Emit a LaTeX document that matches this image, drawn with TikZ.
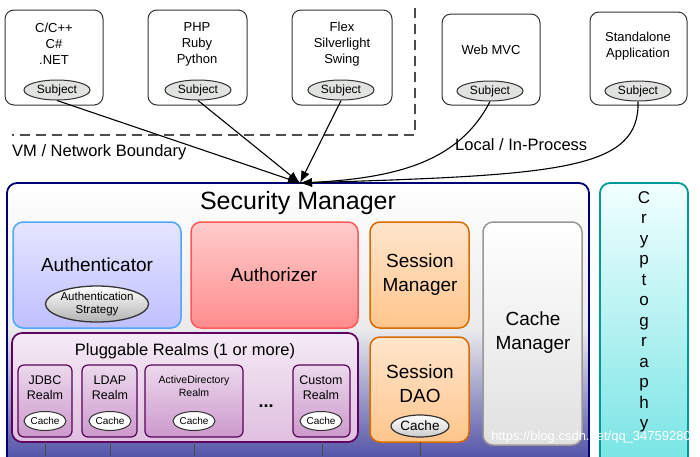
\documentclass[tikz,border=0pt]{standalone}
\usepackage{fontspec}
\setmainfont{Liberation Sans}
\usetikzlibrary{arrows.meta,shapes.geometric}
\begin{document}
\begin{tikzpicture}[x=1pt,y=-1pt,
  client/.style={draw=black!80,line width=1pt,rounded corners=9pt,fill=white},
  subj/.style={ellipse,draw=black!80,line width=1pt,fill=green!10!black!12,inner sep=0pt,minimum width=66pt,minimum height=20pt,font=\fontsize{12}{12}\selectfont},
  cache/.style={ellipse,draw=black!80,line width=1pt,fill=white,inner sep=0pt,minimum width=42pt,minimum height=19pt,font=\fontsize{10}{10}\selectfont},
  realm/.style={draw=violet!70!black,line width=1.2pt,rounded corners=6pt,top color=violet!15,bottom color=violet!40},
  arr/.style={-{Latex[length=12pt,width=9pt]},line width=1.1pt},
  ctext/.style={font=\fontsize{13}{16}\selectfont,align=center}]
\useasboundingbox (0,0) rectangle (700,456);
\fill[white] (0,0) rectangle (700,456);
% clients
\draw[client] (5,10) rectangle (103,105);
\draw[client] (148,10) rectangle (247,105);
\draw[client] (292,10) rectangle (392,105);
\draw[client] (442,14) rectangle (540,105);
\draw[client] (590,12) rectangle (687,105);
\node[ctext] (t1) at (54,44) {C/C++\\C\#\\.NET};
\node[ctext] (t2) at (197,44) {PHP\\Ruby\\Python};
\node[ctext] (t3) at (342,44) {Flex\\Silverlight\\Swing};
\node[ctext] (t4) at (491,50) {Web MVC};
\node[ctext] (t5) at (638,46) {Standalone\\Application};
\node[subj] (s1) at (57,90) {Subject};
\node[subj] (s2) at (198,90) {Subject};
\node[subj] (s3) at (341,90) {Subject};
\node[subj] (s4) at (490,91) {Subject};
\node[subj] (s5) at (638,91) {Subject};
% boundary
\draw[dashed,dash pattern=on 10pt off 6pt,line width=1.4pt,black!70] (415,8) -- (415,135) -- (12,135);
\node[font=\fontsize{16.5}{16.5}\selectfont,anchor=west,inner sep=0] (vm) at (12,152) {VM / Network Boundary};
\node[font=\fontsize{16.5}{16.5}\selectfont,anchor=west,inner sep=0] (lp) at (455,145) {Local / In-Process};
% security manager
\draw[draw=blue!45!black,line width=1.8pt,rounded corners=10pt,top color=white,bottom color=blue!50!black!75,middle color=blue!8!black!8] (7,183) rectangle (589,475);
\node[font=\fontsize{25}{25}\selectfont] (sm) at (298,203) {Security Manager};
\coordinate (tgt) at (300,183);
\draw[arr] (s1.south) -- (tgt);
\draw[arr] (s2.south) -- (tgt);
\draw[arr] (s3.south) -- (tgt);
\draw[arr] (s4.south) .. controls (460,160) and (400,178) .. (tgt);
\draw[arr] (s5.south) .. controls (640,170) and (560,175) .. (tgt);
% crypto
\draw[draw=teal!80!cyan,line width=1.8pt,rounded corners=10pt,top color=cyan!5,bottom color=teal!40!cyan!55] (600,183) rectangle (688,475);
\node[font=\fontsize{17}{20.5}\selectfont,align=center] (cr) at (644,312) {C\\r\\y\\p\\t\\o\\g\\r\\a\\p\\h\\y};
% components
\draw[draw=blue!50!cyan!70,line width=1.5pt,rounded corners=10pt,top color=blue!10,bottom color=blue!25] (13,222) rectangle (181,328);
\node[font=\fontsize{19}{19}\selectfont] (au) at (97,265) {Authenticator};
\node[ellipse,draw=black!80,line width=1.3pt,top color=white,bottom color=black!30,inner sep=0pt,minimum width=102pt,minimum height=36pt,font=\fontsize{11.5}{13}\selectfont,align=center] (as) at (97,304) {Authentication\\Strategy};
\draw[draw=red!65,line width=1.5pt,rounded corners=10pt,top color=red!20,bottom color=red!45] (191,222) rectangle (358,328);
\node[font=\fontsize{19}{19}\selectfont] (az) at (274,275) {Authorizer};
\draw[draw=orange!85!black,line width=1.5pt,rounded corners=10pt,top color=orange!20,bottom color=orange!45] (370,222) rectangle (469,328);
\node[font=\fontsize{19}{24}\selectfont,align=center] (sem) at (420,275) {Session\\Manager};
\draw[draw=black!40,line width=1.5pt,rounded corners=10pt,top color=white,bottom color=black!12] (483,222) rectangle (582,445);
\node[font=\fontsize{19}{24}\selectfont,align=center] (cm) at (533,333) {Cache\\Manager};
\draw[draw=orange!85!black,line width=1.5pt,rounded corners=10pt,top color=orange!20,bottom color=orange!45] (370,337) rectangle (469,442);
\node[font=\fontsize{19}{24}\selectfont,align=center] (sd) at (420,384) {Session\\DAO};
\node[ellipse,draw=black!80,line width=1.2pt,top color=white,bottom color=black!20,inner sep=0pt,minimum width=58pt,minimum height=22pt,font=\fontsize{13.5}{13.5}\selectfont] (sdc) at (420,426) {Cache};
% realms
\draw[draw=violet!75!black,line width=1.7pt,rounded corners=10pt,top color=violet!8,bottom color=violet!25] (12,333) rectangle (358,442);
\node[font=\fontsize{16.5}{16.5}\selectfont] (pr) at (185,351) {Pluggable Realms (1 or more)};
\draw[realm] (18,365) rectangle (72,437);
\draw[realm] (82,365) rectangle (137,437);
\draw[realm] (145,365) rectangle (243,437);
\draw[realm] (293,365) rectangle (350,437);
\node[ctext,font=\fontsize{12.5}{15}\selectfont] (r1) at (45,388) {JDBC\\Realm};
\node[ctext,font=\fontsize{12.5}{15}\selectfont] (r2) at (110,388) {LDAP\\Realm};
\node[ctext,font=\fontsize{10.5}{13}\selectfont] (r3) at (194,386) {ActiveDirectory\\Realm};
\node[ctext,font=\fontsize{12.5}{15}\selectfont] (r4) at (321,388) {Custom\\Realm};
\node[font=\fontsize{18}{18}\selectfont] (dots) at (266,406) {\textbf{...}};
\node[cache] (c1) at (45,421) {Cache};
\node[cache] (c2) at (110,421) {Cache};
\node[cache] (c3) at (194,421) {Cache};
\node[cache] (c4) at (321,421) {Cache};
\foreach \n/\xx in {c1/45,c2/110,c3/194,c4/322,sdc/420}
  \draw[line width=0.8pt,black!70] (\xx,442) -- (\xx,456);
\node[font=\fontsize{13}{13}\selectfont,text=white,anchor=east,inner sep=0] (wm) at (691,437) {https://blog.csdn.net/qq\_34759280};
\end{tikzpicture}
\end{document}
